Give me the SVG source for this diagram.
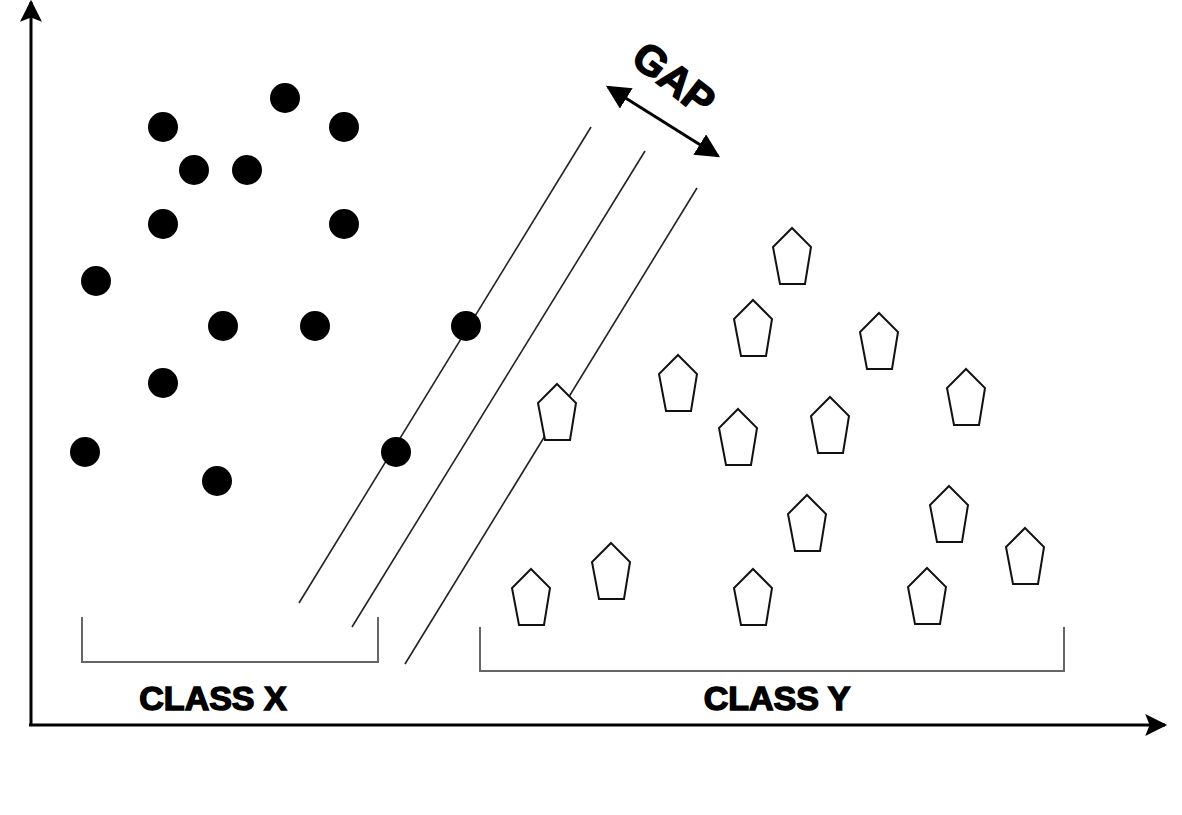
<svg xmlns="http://www.w3.org/2000/svg" width="1182" height="815" viewBox="0 0 1182 815">
<style>
.dot{fill:#000}
.pen{fill:#fff;stroke:#111;stroke-width:2}
.ln{stroke:#222;stroke-width:1.6;fill:none}
.br{stroke:#666;stroke-width:2;fill:none}
.lbl{font-family:"Liberation Sans",Arial,sans-serif;font-weight:900;font-size:34px;fill:#000;stroke:#000;stroke-width:1.5;text-anchor:middle}
</style>
<defs>
<marker id="ah" viewBox="0 0 10 10" refX="9" refY="5" markerWidth="24" markerHeight="22" orient="auto-start-reverse" markerUnits="userSpaceOnUse"><path d="M0,0L10,5L0,10L2,5Z" fill="#000"/></marker>
<marker id="gh" viewBox="0 0 10 10" refX="9" refY="5" markerWidth="24" markerHeight="24" orient="auto-start-reverse" markerUnits="userSpaceOnUse"><path d="M0,0L10,5L0,10Z" fill="#000"/></marker>
<path id="p" d="M0,-29L19,-10L13,27L-12,27L-19,-10Z"/>
</defs>
<rect width="1182" height="815" fill="#fff"/>
<g id="connectors">
<line x1="31" y1="725" x2="31" y2="2" stroke="#000" stroke-width="3" marker-end="url(#ah)"/>
<line x1="29" y1="725" x2="1165" y2="725" stroke="#000" stroke-width="3" marker-end="url(#ah)"/>
<line class="ln" x1="591" y1="127" x2="299" y2="603"/>
<line class="ln" x1="645" y1="151" x2="352" y2="627"/>
<line class="ln" x1="697" y1="188" x2="405" y2="664"/>
<line x1="608" y1="87" x2="718" y2="156" stroke="#000" stroke-width="3" marker-start="url(#gh)" marker-end="url(#gh)"/>
<path class="br" d="M82,617V662H378V617"/>
<path class="br" d="M480,627V671H1064V627"/>
</g>
<g id="classX">
<circle class="dot" cx="285" cy="98" r="15"/><circle class="dot" cx="163" cy="127" r="15"/><circle class="dot" cx="344" cy="127" r="15"/>
<circle class="dot" cx="194" cy="170" r="15"/><circle class="dot" cx="247" cy="170" r="15"/><circle class="dot" cx="163" cy="224" r="15"/>
<circle class="dot" cx="344" cy="224" r="15"/><circle class="dot" cx="96" cy="281" r="15"/><circle class="dot" cx="223" cy="326" r="15"/>
<circle class="dot" cx="315" cy="326" r="15"/><circle class="dot" cx="466" cy="326" r="15"/><circle class="dot" cx="163" cy="383" r="15"/>
<circle class="dot" cx="85" cy="452" r="15"/><circle class="dot" cx="396" cy="452" r="15"/><circle class="dot" cx="217" cy="481" r="15"/>
</g>
<g id="classY">
<use href="#p" class="pen" x="792" y="257"/><use href="#p" class="pen" x="753" y="329"/><use href="#p" class="pen" x="879" y="342"/>
<use href="#p" class="pen" x="678" y="384"/><use href="#p" class="pen" x="557" y="413"/><use href="#p" class="pen" x="966" y="398"/>
<use href="#p" class="pen" x="738" y="438"/><use href="#p" class="pen" x="830" y="426"/><use href="#p" class="pen" x="807" y="524"/>
<use href="#p" class="pen" x="949" y="515"/><use href="#p" class="pen" x="1025" y="557"/><use href="#p" class="pen" x="611" y="572"/>
<use href="#p" class="pen" x="531" y="598"/><use href="#p" class="pen" x="753" y="598"/><use href="#p" class="pen" x="927" y="597"/>
</g>
<g id="labels">
<text class="lbl" x="213" y="710">CLASS X</text>
<text class="lbl" x="777" y="710">CLASS Y</text>
<text class="lbl" style="font-size:42px" transform="translate(665,90) rotate(38)" x="0" y="0">GAP</text>
</g>
</svg>
